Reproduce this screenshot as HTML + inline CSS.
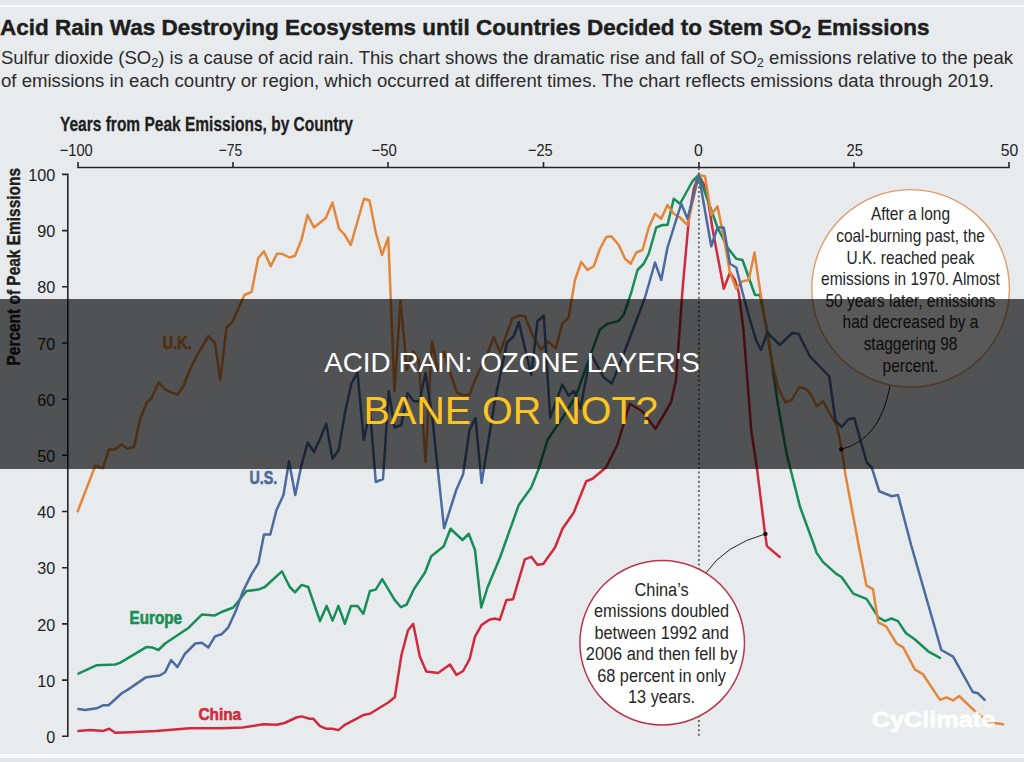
<!DOCTYPE html>
<html><head><meta charset="utf-8">
<style>
html,body{margin:0;padding:0;width:1024px;height:762px;overflow:hidden;background:#e8ebed;}
svg{position:absolute;left:0;top:0;display:block;}
text{font-family:"Liberation Sans",sans-serif;}
</style></head>
<body>
<svg width="1024" height="762" viewBox="0 0 1024 762">
<rect x="0" y="0" width="1024" height="762" fill="#e8ebed"/>
<rect x="0" y="0" width="1024" height="5" fill="#e6e9ea"/>
<rect x="0" y="5" width="1024" height="2" fill="#fbfcfc"/>
<rect x="0" y="754" width="1024" height="4" fill="#f8f9fa"/>
<rect x="0" y="758" width="1024" height="4" fill="#e4e6e7"/>

<text x="0" y="34.9" font-size="22.6" font-weight="bold" fill="#1e1e1e" stroke="#1e1e1e" stroke-width="0.45" textLength="929.5" lengthAdjust="spacingAndGlyphs">Acid Rain Was Destroying Ecosystems until Countries Decided to Stem SO<tspan font-size="16.5" dy="3.5">2</tspan><tspan dy="-3.5"> Emissions</tspan></text>
<text x="1" y="64" font-size="17.5" fill="#2a2a2a" textLength="1012" lengthAdjust="spacingAndGlyphs">Sulfur dioxide (SO<tspan font-size="12" dy="3">2</tspan><tspan dy="-3">) is a cause of acid rain. This chart shows the dramatic rise and fall of SO</tspan><tspan font-size="12" dy="3">2</tspan><tspan dy="-3"> emissions relative to the peak</tspan></text>
<text x="1" y="87.4" font-size="17.5" fill="#2a2a2a" textLength="993" lengthAdjust="spacingAndGlyphs">of emissions in each country or region, which occurred at different times. The chart reflects emissions data through 2019.</text>
<text x="60" y="131.3" font-size="20.5" font-weight="bold" fill="#1e1e1e" stroke="#1e1e1e" stroke-width="0.3" textLength="293" lengthAdjust="spacingAndGlyphs">Years from Peak Emissions, by Country</text>
<path d="M78,162 V167.5 H1009 V162 M233,162 V167 M388,162 V167 M543.5,162 V167 M699,162 V167 M854,162 V167" fill="none" stroke="#262626" stroke-width="1.6"/>
<text x="59.7" y="155.9" font-size="17.3" fill="#222" textLength="33.1" lengthAdjust="spacingAndGlyphs">−100</text>
<text x="218.7" y="155.9" font-size="17.3" fill="#222" textLength="23.5" lengthAdjust="spacingAndGlyphs">−75</text>
<text x="371.6" y="155.9" font-size="17.3" fill="#222" textLength="25.3" lengthAdjust="spacingAndGlyphs">−50</text>
<text x="528" y="155.9" font-size="17.3" fill="#222" textLength="24.7" lengthAdjust="spacingAndGlyphs">−25</text>
<text x="694" y="155.9" font-size="17.3" fill="#222" textLength="8.8" lengthAdjust="spacingAndGlyphs">0</text>
<text x="846.5" y="155.9" font-size="17.3" fill="#222" textLength="16.5" lengthAdjust="spacingAndGlyphs">25</text>
<text x="1000.8" y="155.9" font-size="17.3" fill="#222" textLength="17.5" lengthAdjust="spacingAndGlyphs">50</text>
<path d="M62,174.4 H67.8 V736.3 H62" fill="none" stroke="#262626" stroke-width="1.6"/>
<path d="M62,680.1 H67.8 M62,623.9 H67.8 M62,567.7 H67.8 M62,511.5 H67.8 M62,455.3 H67.8 M62,399.2 H67.8 M62,343.0 H67.8 M62,286.8 H67.8 M62,230.6 H67.8 " fill="none" stroke="#262626" stroke-width="1.6"/>
<text x="55.2" y="742.9" font-size="17.2" fill="#222" text-anchor="end" textLength="9.0" lengthAdjust="spacingAndGlyphs">0</text>
<text x="55.2" y="686.7" font-size="17.2" fill="#222" text-anchor="end" textLength="18.0" lengthAdjust="spacingAndGlyphs">10</text>
<text x="55.2" y="630.5" font-size="17.2" fill="#222" text-anchor="end" textLength="18.0" lengthAdjust="spacingAndGlyphs">20</text>
<text x="55.2" y="574.3" font-size="17.2" fill="#222" text-anchor="end" textLength="18.0" lengthAdjust="spacingAndGlyphs">30</text>
<text x="55.2" y="518.1" font-size="17.2" fill="#222" text-anchor="end" textLength="18.0" lengthAdjust="spacingAndGlyphs">40</text>
<text x="55.2" y="461.9" font-size="17.2" fill="#222" text-anchor="end" textLength="18.0" lengthAdjust="spacingAndGlyphs">50</text>
<text x="55.2" y="405.8" font-size="17.2" fill="#222" text-anchor="end" textLength="18.0" lengthAdjust="spacingAndGlyphs">60</text>
<text x="55.2" y="349.6" font-size="17.2" fill="#222" text-anchor="end" textLength="18.0" lengthAdjust="spacingAndGlyphs">70</text>
<text x="55.2" y="293.4" font-size="17.2" fill="#222" text-anchor="end" textLength="18.0" lengthAdjust="spacingAndGlyphs">80</text>
<text x="55.2" y="237.2" font-size="17.2" fill="#222" text-anchor="end" textLength="18.0" lengthAdjust="spacingAndGlyphs">90</text>
<text x="55.2" y="181.0" font-size="17.2" fill="#222" text-anchor="end" textLength="27.0" lengthAdjust="spacingAndGlyphs">100</text>
<text transform="translate(19.5,365.5) rotate(-90)" x="0" y="0" font-size="18.8" font-weight="bold" fill="#1e1e1e" stroke="#1e1e1e" stroke-width="0.4" textLength="197.5" lengthAdjust="spacingAndGlyphs">Percent of Peak Emissions</text>
<polyline points="78.4,730.9 90.3,730.1 103.4,730.9 109.2,728.8 115.2,732.7 129.6,732.2 155.9,730.9 190,728.3 221.5,728.3 242.5,727.5 263.5,724.3 276.7,724.8 284.5,723 296.4,717.5 301.6,716.4 309.5,718.8 313.4,718.8 320,726.1 326.6,728.8 332.6,728.8 338.4,730.1 344.9,724.8 363.3,715.1 369.9,713.8 388.3,702.5 394.8,697.3 401.4,655.3 408,630.3 413.2,623.8 419.8,656.6 426.3,671.5 438.1,672.9 450,664.5 456.5,675 463.1,671 469.6,659.2 474.9,636.9 481.5,625.1 489.3,619.8 494.6,618.5 499.8,619.8 506.4,600.1 513,599.3 524.8,559.4 531.3,556.8 537.4,564.7 543.2,563.9 555,547.5 562.5,528.75 573.75,512.5 586.25,481.25 592.5,478.75 606,467.5 617.25,445 629.75,403.75 642.25,411.25 655.5,428.75 671,402.5 676,380 682.5,290 688.75,220 693.75,188.75 698.75,175 706.25,188.75 712.5,228.75 723.75,288.75 730,272.5 735,280 738.75,292.5 743.5,330 751.2,430 757.1,469.4 765,533.3 766.9,546.1 779.7,557" fill="none" stroke="#cf2a3d" stroke-width="2.5" stroke-linejoin="round" stroke-linecap="round"/>
<polyline points="78.4,673.6 96.8,665.2 115.2,664.5 120.4,662.6 146.7,646.9 152,647.4 158.5,650 165.1,643.5 188.7,627.7 201.8,614.6 215,615.4 221.5,612 233.3,607.5 246.5,591 258.3,589.6 264.8,587 281.9,571.3 289.8,587 295,592.3 301.6,584.9 308.2,587 320,621.1 326.6,605.9 332.6,620.6 338.4,605.9 344.9,623.8 351,605.9 357.5,605.9 363.3,613.8 369.9,591 375.7,589.6 382.2,579.1 394.8,600.1 400.9,607.2 406.6,604.6 414,589 425,572.5 431.25,556.25 443.75,546.25 450.5,528.75 462.5,540 468.75,533.75 475,550 481.25,607.5 487.5,587.5 500,557.5 518.75,505 531.25,487.5 538.75,468.75 547.5,440 564.9,414 576,395.6 585.1,369.9 599.9,329.4 607.2,323.9 618.2,321.1 623.8,314.7 631.25,292.5 637.5,270 643.75,263.75 648.75,253.75 656.25,227.5 662.5,225 667.5,225 673.75,198.75 680,203.75 692.5,181.25 698.75,175 705,192.5 717.5,227.5 727.5,247.5 736.25,258.75 742.5,260 755,295 760,295 767.5,332.5 778,405 786.6,453.6 800,506.8 814,545 816.6,552.9 823.1,562.1 836.3,573.9 841.5,577 853.3,593.6 866.5,598.8 878.3,617.2 884.8,621.1 891.4,618.5 898,621.1 905.8,633 915,639.5 928.1,651.3 940,657.9" fill="none" stroke="#178d57" stroke-width="2.5" stroke-linejoin="round" stroke-linecap="round"/>
<polyline points="77.75,511.25 95.25,465.75 102.75,468.25 109,449.5 115.25,449.5 121.5,444.5 127.75,448.75 134,447 140.25,418.75 146.5,403 151.5,398 158.5,382.5 165.25,389.5 171.5,392.5 177.75,394.5 184,385 190.25,368.75 196.5,356.25 208.25,336.25 215,343 220.25,380 226.5,327.5 232,322.5 244.5,295 251.5,292 258.25,258 264,251.25 270.75,266.25 277,253.75 282,253.75 289.5,257.5 295,255.75 301.5,239.6 307.5,215 314,227.5 325.75,218 332.5,202.5 339,228.75 344.5,234.5 350.75,245 364,198.75 369.5,200.5 375.75,232.5 382,255 388.25,237.5 394.5,391.25 400.5,300.5 407,370 413,351.25 418.75,360 425.5,462 432,341.25 437.5,370 443.75,352 450,372.5 457,392.5 462.5,395 469.5,395 475,380 487.5,353.75 493.75,337 500,352.5 512.5,318 520,315.5 525,316.25 532.5,335 541,349.6 548.4,341.4 555.7,348.7 562.2,323.9 568.6,317.5 575,280 581.25,262 587.5,270 593.75,266.25 600,248.75 606.25,237 611.25,236.25 618.75,245 625,258.75 630.75,263.75 636.25,252.5 642.5,250 648.75,227.5 655,213.75 661.25,218.75 667.5,205 673.75,213.75 680,217.5 687.5,225 698.75,175 705,176.25 711.25,215 717.5,206.25 723.75,237.5 730,272.5 736.25,288.75 742.5,281.25 748.75,280 754.5,252.5 760,290 766,327.5 770.5,355 778,387.5 785.5,402.5 791.75,400 799.25,387 805.5,388.75 810.5,393.75 816.75,406.25 823,401.25 830.5,415 836.75,425 841.75,450 845.5,475 849.25,495 858.6,545 866.5,585.7 873,589.1 878.3,622.4 886.1,626.4 896.6,643.5 903.2,647.4 915,669.7 922.9,674.2 940,699.9 946.5,697.3 953.1,700.4 959.1,696 975.4,711.7 989.8,722.2 1003,724.3" fill="none" stroke="#e2873a" stroke-width="2.5" stroke-linejoin="round" stroke-linecap="round"/>
<polyline points="78.4,709.1 85,709.9 96.8,708.3 103.4,705.2 108.6,705.2 121.8,693.3 128.3,689.4 145.4,677.6 153.3,676.3 159.8,675.5 165.1,672.3 171.1,660 177.4,667.1 184.8,654 195.3,643.5 201.8,642.7 208.4,647.4 215,636.4 221.5,634.3 228.1,627.7 236,610.6 242.5,592.3 251.7,573.9 258.3,563.4 264,534.5 270.25,534.5 276.5,510 283.5,495 289,461.25 295.25,495 301.5,465 307.75,442.5 314,452 320,438.75 326.25,423.75 332.5,458.75 338.75,450 345,412.5 351.25,383.75 357.5,372.5 363.75,440 370,410 375.8,482 383,479 388.75,391.25 394.5,427.5 401.25,425 407.5,393 413.75,401.25 419.5,401.25 425.5,373 432,415 444.1,528.3 456.25,490 463.1,474.2 469.5,430 475.5,418 481.6,483 495,400 507,342.5 513.75,336.25 518.75,322 531.25,375 537.5,321.25 543.75,315.5 550.2,417.6 562.2,384.6 568.6,395.6 574.1,391 580.5,408.5 590.7,353.3 603.5,377.2 611.8,383.6 621.9,358.8 645,297.5 655,262.5 661.25,280 667.5,247.5 681.25,203.75 687.5,218.75 698.75,175 711.25,246.25 717.5,227.5 723.75,227.5 730,263.75 736.25,267.5 742.5,292.5 750,320 756,340 761,350 767.25,332.5 779.75,345 792.25,333 798.5,333.75 809.75,356.25 829.25,376.25 835.5,421.25 841.75,427 848,419.5 854.25,418 866.75,462.5 871.75,467.5 879.25,491.25 891.75,496.25 898,495 911.1,545 941.3,650 953.1,656.6 972.8,692 978,693.3 984.6,699.9" fill="none" stroke="#4b6b9f" stroke-width="2.5" stroke-linejoin="round" stroke-linecap="round"/>
<line x1="698.9" y1="168" x2="698.9" y2="737" stroke="#666" stroke-width="1.9" stroke-dasharray="2 2.6"/>
<text x="162.4" y="349.3" font-size="17.5" font-weight="bold" fill="#e2873a" stroke="#e2873a" stroke-width="0.6" textLength="29.4" lengthAdjust="spacingAndGlyphs">U.K.</text>
<text x="249.5" y="483.75" font-size="17.5" font-weight="bold" fill="#4b6b9f" stroke="#4b6b9f" stroke-width="0.6" textLength="27.75" lengthAdjust="spacingAndGlyphs">U.S.</text>
<text x="129.6" y="623.8" font-size="17.5" font-weight="bold" fill="#178d57" stroke="#178d57" stroke-width="0.6" textLength="52.4" lengthAdjust="spacingAndGlyphs">Europe</text>
<text x="198.4" y="719.5" font-size="17" font-weight="bold" fill="#cf2a3d" stroke="#cf2a3d" stroke-width="0.6" textLength="42.8" lengthAdjust="spacingAndGlyphs">China</text>
<path d="M841.25,449.25 Q880,440 890,386" fill="none" stroke="#222" stroke-width="1"/>
<circle cx="841.25" cy="449.25" r="2.2" fill="#111"/>
<circle cx="910.6" cy="288.4" r="98.8" fill="#ffffff" stroke="#dc9d68" stroke-width="1.4"/>
<text x="910.5" y="220.4" font-size="18" fill="#262626" text-anchor="middle" transform="translate(910.5,0) scale(0.86,1) translate(-910.5,0)">After a long</text>
<text x="910.5" y="242.0" font-size="18" fill="#262626" text-anchor="middle" transform="translate(910.5,0) scale(0.86,1) translate(-910.5,0)">coal-burning past, the</text>
<text x="910.5" y="263.6" font-size="18" fill="#262626" text-anchor="middle" transform="translate(910.5,0) scale(0.86,1) translate(-910.5,0)">U.K. reached peak</text>
<text x="910.5" y="285.2" font-size="18" fill="#262626" text-anchor="middle" transform="translate(910.5,0) scale(0.86,1) translate(-910.5,0)">emissions in 1970. Almost</text>
<text x="910.5" y="306.8" font-size="18" fill="#262626" text-anchor="middle" transform="translate(910.5,0) scale(0.86,1) translate(-910.5,0)">50 years later, emissions</text>
<text x="910.5" y="328.4" font-size="18" fill="#262626" text-anchor="middle" transform="translate(910.5,0) scale(0.86,1) translate(-910.5,0)">had decreased by a</text>
<text x="910.5" y="350.0" font-size="18" fill="#262626" text-anchor="middle" transform="translate(910.5,0) scale(0.86,1) translate(-910.5,0)">staggering 98</text>
<text x="910.5" y="371.6" font-size="18" fill="#262626" text-anchor="middle" transform="translate(910.5,0) scale(0.86,1) translate(-910.5,0)">percent.</text>
<path d="M765.4,533.9 Q725,545 705.9,573" fill="none" stroke="#222" stroke-width="1"/>
<circle cx="765.4" cy="533.9" r="2.2" fill="#111"/>
<circle cx="662.2" cy="642.7" r="82.3" fill="#ffffff" stroke="#b9364c" stroke-width="1.5"/>
<text x="661.6" y="595.6" font-size="18" fill="#262626" text-anchor="middle" transform="translate(661.6,0) scale(0.907,1) translate(-661.6,0)">China’s</text>
<text x="661.6" y="617.1" font-size="18" fill="#262626" text-anchor="middle" transform="translate(661.6,0) scale(0.907,1) translate(-661.6,0)">emissions doubled</text>
<text x="661.6" y="638.7" font-size="18" fill="#262626" text-anchor="middle" transform="translate(661.6,0) scale(0.907,1) translate(-661.6,0)">between 1992 and</text>
<text x="661.6" y="660.2" font-size="18" fill="#262626" text-anchor="middle" transform="translate(661.6,0) scale(0.907,1) translate(-661.6,0)">2006 and then fell by</text>
<text x="661.6" y="681.8" font-size="18" fill="#262626" text-anchor="middle" transform="translate(661.6,0) scale(0.907,1) translate(-661.6,0)">68 percent in only</text>
<text x="661.6" y="703.4" font-size="18" fill="#262626" text-anchor="middle" transform="translate(661.6,0) scale(0.907,1) translate(-661.6,0)">13 years.</text>
<text x="871.7" y="726.5" font-size="22.5" font-weight="bold" fill="#ffffff" fill-opacity="0.92" stroke="#ffffff" stroke-opacity="0.9" stroke-width="0.9" textLength="123.5" lengthAdjust="spacingAndGlyphs">CyClimate</text>
<rect x="0" y="299" width="1024" height="170" fill="#000" fill-opacity="0.65"/>
<text x="512" y="371.5" font-size="27.8" fill="#ffffff" text-anchor="middle">ACID RAIN: OZONE LAYER'S</text>
<text x="510.6" y="423.7" font-size="39.5" fill="#fcc51f" text-anchor="middle">BANE OR NOT?</text>
</svg>
</body></html>
